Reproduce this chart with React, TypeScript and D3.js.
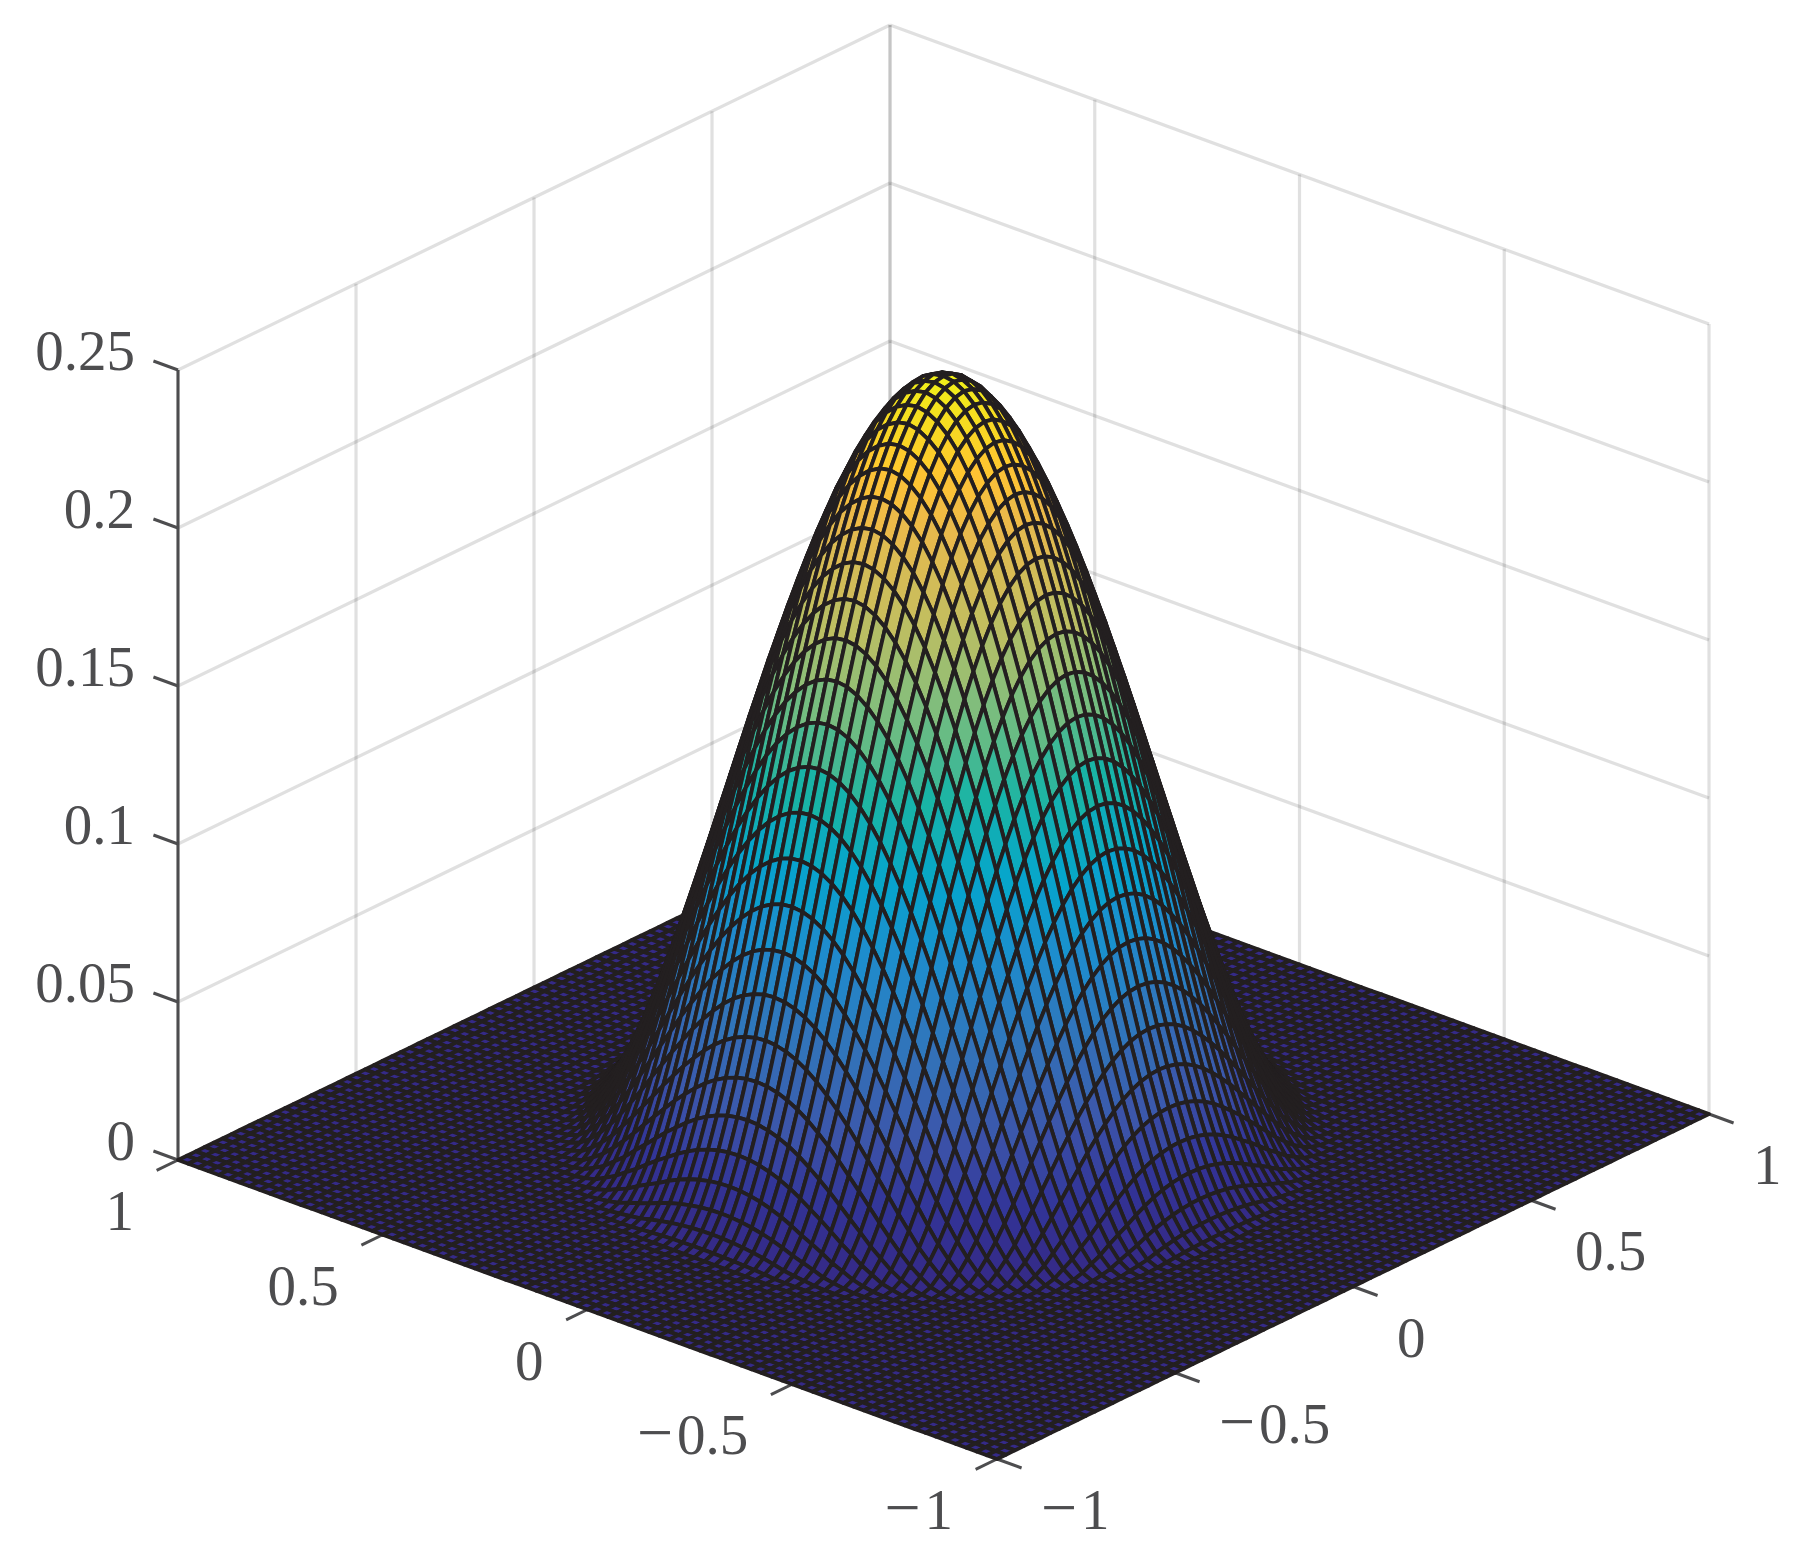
import React, { useMemo } from "react";
import * as d3 from "d3";

// Grid of the surface: 81 x 81 samples on [-1, 1]
const gridAxis: number[] = d3.range(81).map((i) => -1 + i * 0.025);

// Height of the bump against distance from the centre
const profileRadius = [
  0, 0.025, 0.05, 0.075, 0.1, 0.125, 0.15, 0.175, 0.2, 0.225, 0.25, 0.275, 0.3, 0.325, 0.35, 0.375,
  0.4, 0.425, 0.45, 0.475, 0.5, 0.525, 0.55, 0.575, 0.6, 0.625, 0.65, 0.675, 0.7, 2,
];
const profileHeight = [
  0.2408, 0.2402, 0.2384, 0.2353, 0.2311, 0.2257, 0.2192, 0.2116, 0.2031, 0.1936, 0.1833, 0.1722,
  0.1605, 0.1482, 0.1355, 0.1224, 0.1092, 0.096, 0.0829, 0.0701, 0.0578, 0.0461, 0.0353, 0.0255,
  0.017, 0.0099, 0.0046, 0.0012, 0, 0,
];

const planeTicks = [-1, -0.5, 0, 0.5, 1];
const planeTickLabels = ["\u22121", "\u22120.5", "0", "0.5", "1"];
const zTicks = [0, 0.05, 0.1, 0.15, 0.2, 0.25];
const zTickLabels = ["0", "0.05", "0.1", "0.15", "0.2", "0.25"];

const colorDomain = [0, 0.058, 0.13, 0.22, 0.32, 0.41, 0.51, 0.58, 0.64, 0.72, 0.83, 0.89, 0.94, 1];
const colorRange = [
  "#352a87", "#323498", "#3c55aa", "#3273b9", "#1e8ccd", "#05a5cd", "#19b4a5",
  "#5fbb87", "#8cbe78", "#c3be5f", "#ebb94b", "#ffc332", "#f8d723", "#f0f019",
];

const INK = "#231f20";
const AXIS = "#4d4d4f";

const heightAt = d3.scaleLinear().domain(profileRadius).range(profileHeight).clamp(true);
const colorAt = d3
  .scaleLinear<string>()
  .domain(colorDomain.map((d) => d * 0.2408))
  .range(colorRange)
  .interpolate(d3.interpolateRgb)
  .clamp(true);

// Oblique projection: three linear scales on screen
const uX = d3.scaleLinear().domain([-1, 1]).range([0, 712]);
const uY = d3.scaleLinear().domain([-1, 1]).range([0, -345]);
const vX = d3.scaleLinear().domain([-1, 1]).range([0, -819]);
const vY = d3.scaleLinear().domain([-1, 1]).range([0, -299]);
const zY = d3.scaleLinear().domain([0, 0.25]).range([0, -790]);
const FRONT: [number, number] = [997, 1459];

const project = (u: number, v: number, z: number): [number, number] => [
  FRONT[0] + uX(u) + vX(v),
  FRONT[1] + uY(u) + vY(v) + zY(z),
];

const line = d3.line();

function TickText({ label, ...rest }: any) {
  const minus = label.startsWith("\u2212");
  return minus ? (
    <text {...rest}>
      <tspan fontSize={64}>{"\u2212"}</tspan>
      <tspan dx={4}>{label.slice(1)}</tspan>
    </text>
  ) : (
    <text {...rest}>{label}</text>
  );
}

export default function App() {
  const quads = useMemo(() => {
    const n = gridAxis.length;
    const z = gridAxis.map((u) => gridAxis.map((v) => heightAt(Math.hypot(u, v))));
    const out: { d: string; fill: string }[] = [];
    for (let i = n - 2; i >= 0; i--) {
      for (let j = n - 2; j >= 0; j--) {
        const pts = [
          project(gridAxis[i], gridAxis[j], z[i][j]),
          project(gridAxis[i + 1], gridAxis[j], z[i + 1][j]),
          project(gridAxis[i + 1], gridAxis[j + 1], z[i + 1][j + 1]),
          project(gridAxis[i], gridAxis[j + 1], z[i][j + 1]),
        ];
        out.push({ d: line(pts) + "Z", fill: colorAt(z[i][j]) });
      }
    }
    return out;
  }, []);

  const tickLen = 0.06;
  const zMax = zTicks[zTicks.length - 1];
  const font = "'Liberation Serif', serif";

  return (
    <svg
      width={1795}
      height={1546}
      viewBox="0 0 1795 1546"
      style={{ position: "absolute", left: 0, top: 0, background: "#fff" }}
    >
      {/* wall grid */}
      <g fill="none" stroke="#262626" strokeOpacity={0.14} strokeWidth={3.2}>
        {zTicks.map((t) => (
          <path key={"z1" + t} d={line([project(-1, 1, t), project(1, 1, t)]) as string} />
        ))}
        {zTicks.map((t) => (
          <path key={"z2" + t} d={line([project(1, 1, t), project(1, -1, t)]) as string} />
        ))}
        {planeTicks.map((t) => (
          <path key={"a" + t} d={line([project(t, 1, 0), project(t, 1, zMax)]) as string} />
        ))}
        {planeTicks.map((t) => (
          <path key={"b" + t} d={line([project(1, t, 0), project(1, t, zMax)]) as string} />
        ))}
      </g>

      {/* axes and ticks */}
      <g fill="none" stroke={AXIS} strokeWidth={3}>
        <path d={line([project(-1, 1, 0), project(-1, 1, zMax)]) as string} />
        {zTicks.map((t) => (
          <path key={"zt" + t} d={line([project(-1, 1, t), project(-1, 1 + tickLen, t)]) as string} />
        ))}
        {planeTicks.map((t) => (
          <path key={"vt" + t} d={line([project(-1, t, 0), project(-1 - tickLen, t, 0)]) as string} />
        ))}
        {planeTicks.map((t) => (
          <path key={"ut" + t} d={line([project(t, -1, 0), project(t, -1 - tickLen, 0)]) as string} />
        ))}
      </g>

      {/* surface */}
      <g stroke={INK} strokeWidth={3.8} strokeLinejoin="round">
        {quads.map((q, i) => (
          <path key={i} d={q.d} fill={q.fill} />
        ))}
      </g>

      {/* tick labels */}
      <g fill={AXIS} fontFamily={font} fontSize={57}>
        {zTicks.map((t, i) => {
          const p = project(-1, 1, t);
          return (
            <TickText key={"zl" + t} label={zTickLabels[i]} x={p[0] - 43} y={p[1]} textAnchor="end" />
          );
        })}
        {planeTicks.map((t, i) => {
          const p = project(-1, t, 0);
          return (
            <TickText key={"vl" + t} label={planeTickLabels[i]} x={p[0] - 44} y={p[1] + 70} textAnchor="end" />
          );
        })}
        {planeTicks.map((t, i) => {
          const p = project(t, -1, 0);
          return (
            <TickText key={"ul" + t} label={planeTickLabels[i]} x={p[0] + 44} y={p[1] + 70} textAnchor="start" />
          );
        })}
      </g>
    </svg>
  );
}
